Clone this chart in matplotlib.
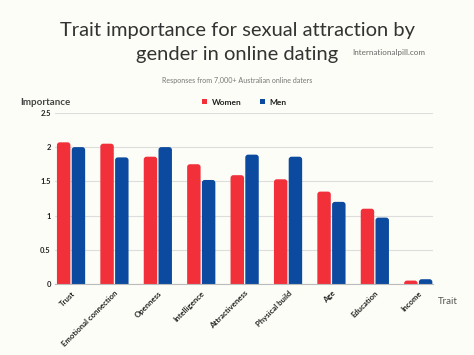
import numpy as np
import matplotlib.pyplot as plt
from matplotlib.patches import FancyBboxPatch

traits = ["Trust", "Emotional connection", "Openness", "Intelligence", "Attractiveness",
          "Physical build", "Age", "Education", "Income"]
women = [2.07, 2.05, 1.86, 1.75, 1.59, 1.53, 1.35, 1.10, 0.05]
men = [2.00, 1.85, 2.00, 1.52, 1.89, 1.86, 1.20, 0.97, 0.07]
y_ticks = [0, 0.5, 1, 1.5, 2, 2.5]
y_tick_labels = ["0", "0.5", "1", "1.5", "2", "2.5"]

red = "#F2303A"
blue = "#0B4A9E"
bg = "#FDFDF7"
font = "Lato"

plt.rcParams['font.family'] = [font, 'DejaVu Sans']

fig = plt.figure(figsize=(4.74, 3.55), dpi=100, facecolor=bg)
ax = fig.add_axes([0.116, 0.2, 0.7975, 0.482], facecolor=bg)

x = np.arange(len(traits))
w = 0.31
off = 0.17
bars_w = ax.bar(x - off, women, w, color=red, label="Women")
bars_m = ax.bar(x + off, men, w, color=blue, label="Men")

# swap plain rectangles for round-topped ones (bottom corners hidden below 0)
r = 0.065
for bars in (bars_w, bars_m):
    for rect in bars:
        bx, by = rect.get_x(), rect.get_y()
        bw, bh = rect.get_width(), rect.get_height()
        p = FancyBboxPatch((bx, by - 0.1), bw, bh + 0.1,
                           boxstyle="round,pad=0,rounding_size=%f" % r,
                           mutation_aspect=0.63,
                           facecolor=rect.get_facecolor(), edgecolor="none",
                           clip_on=True)
        ax.add_patch(p)
        rect.set_visible(False)

ax.set_xlim(-0.37, 8.34)
ax.set_ylim(0, 2.5)
ax.set_yticks(y_ticks)
ax.set_yticklabels(y_tick_labels, fontsize=5.5, fontweight="bold", color="#222222")
ax.set_xticks(x)
ax.set_xticklabels(traits, rotation=45, ha="right", rotation_mode="anchor",
                   fontsize=5.6, fontweight="bold", color="#222222")
ax.tick_params(axis="both", length=0, pad=3)
ax.tick_params(axis="x", pad=4)
ax.set_axisbelow(True)
ax.grid(axis="y", color="#DDDDDD", linewidth=0.8)
for s in ["top", "right", "left"]:
    ax.spines[s].set_visible(False)
ax.spines["bottom"].set_color("#BBBBBB")
ax.spines["bottom"].set_linewidth(0.8)

fig.text(0.5, 0.915, "Trait importance for sexual attraction by", ha="center", va="center",
         fontsize=14.5, color="#333333")
fig.text(0.5, 0.846, "gender in online dating", ha="center", va="center",
         fontsize=14.5, color="#333333")
fig.text(0.743, 0.851, "Internationalpill.com", ha="left", va="center",
         fontsize=5.8, color="#666666")
fig.text(0.5, 0.772, "Responses from 7,000+ Australian online daters", ha="center", va="center",
         fontsize=5.1, color="#777777")
fig.text(0.042, 0.71, "Importance", ha="left", va="center",
         fontsize=7, fontweight="bold", color="#444444")
fig.text(0.924, 0.152, "Trait", ha="left", va="center",
         fontsize=7, color="#555555")

leg = fig.legend(handles=[bars_w, bars_m], labels=["Women", "Men"], loc="center",
                 bbox_to_anchor=(0.515, 0.712), ncol=2, frameon=False,
                 prop={"size": 6, "weight": "bold"}, handlelength=0.6, handleheight=0.6,
                 columnspacing=2.2, handletextpad=0.6)
for h in leg.legend_handles:
    h.set_visible(True)
for t in leg.get_texts():
    t.set_color("#222222")

plt.savefig("out.png", dpi=100, facecolor=bg)
plt.close()
